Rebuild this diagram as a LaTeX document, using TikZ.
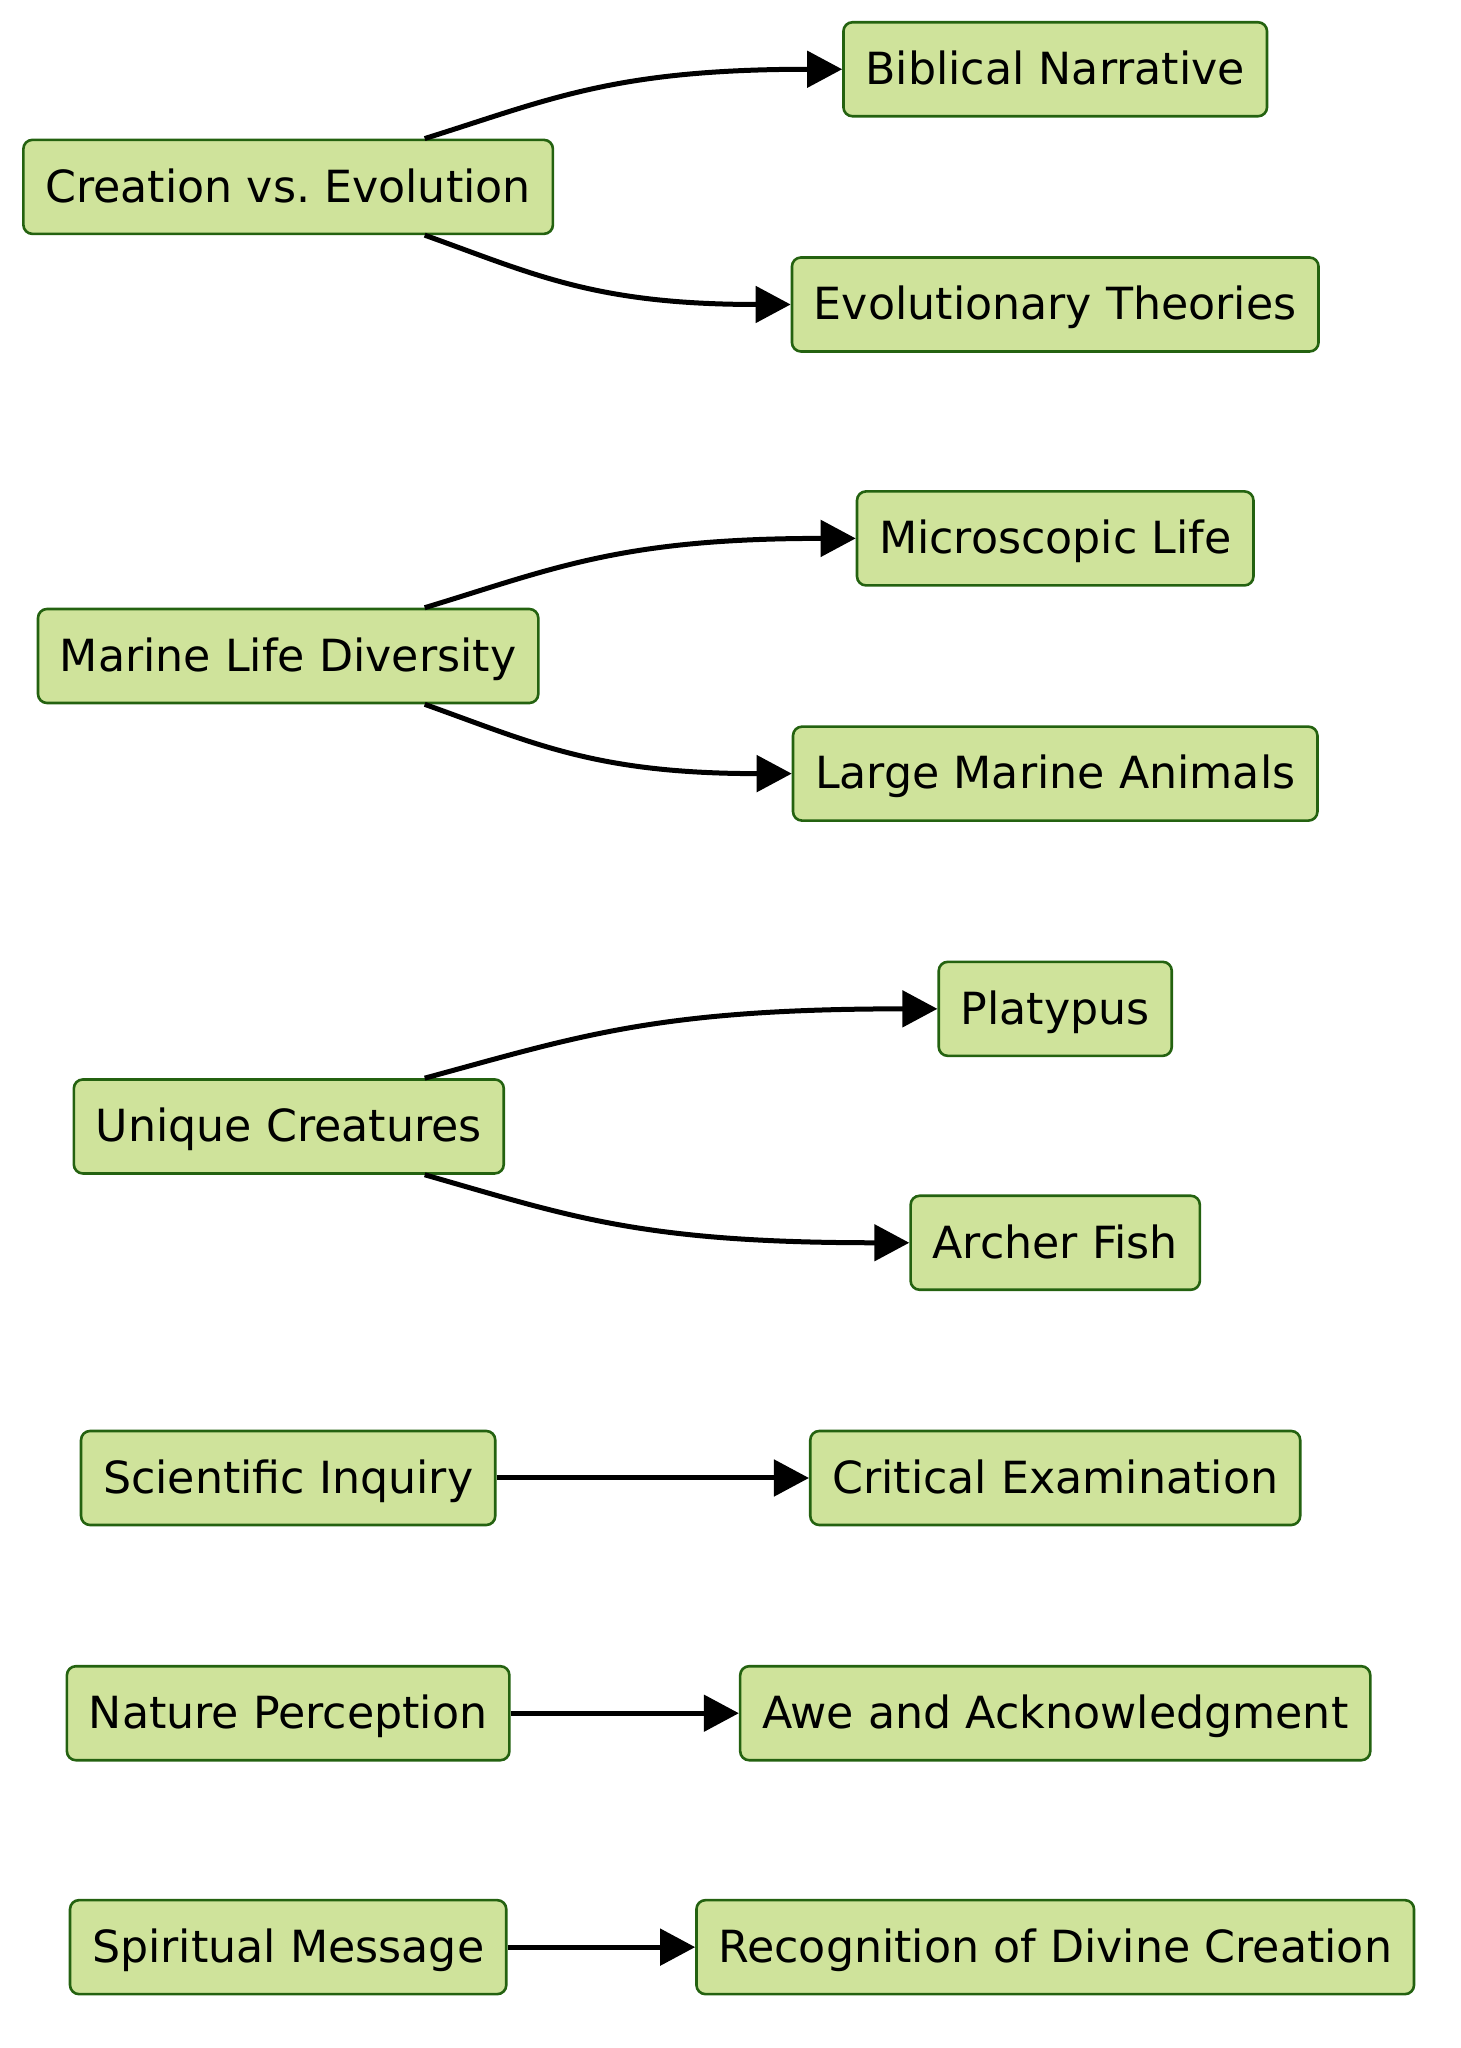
\documentclass[tikz,border=0pt]{standalone}
\usepackage{fontspec}
\setmainfont{DejaVu Sans}
\usetikzlibrary{arrows.meta,calc}
\definecolor{boxfill}{RGB}{207,227,155}
\definecolor{boxline}{RGB}{36,98,16}
\frenchspacing
\begin{document}
\begin{tikzpicture}[x=1.3068pt,y=-1.3068pt,
  box/.style={draw=boxline,fill=boxfill,line width=2.6pt,rounded corners=9pt,
    minimum height=94pt,inner xsep=22pt,inner ysep=0pt,
    text height=41.1pt,text depth=10.5pt,
    font=\fontsize{44.3pt}{54pt}\selectfont,text=black},
  edge/.style={line width=5pt,-{Triangle[length=35pt,width=36pt]},black}]
\useasboundingbox (0,0) rectangle (1118,1567.2);
% left column
\node[box] (cve) at (220.5,143) {Creation vs.\ Evolution};
\node[box] (mld) at (220.5,502) {Marine Life Diversity};
\node[box] (uc)  at (221,862)  {Unique Creatures};
\node[box] (si)  at (220.5,1131) {Scientific Inquiry};
\node[box] (np)  at (220.5,1311) {Nature Perception};
\node[box] (sm)  at (220.5,1490) {Spiritual Message};
% right column
\node[box] (bib) at (807.5,53)  {Biblical Narrative};
\node[box] (evo) at (807.5,233) {Evolutionary Theories};
\node[box] (mic) at (807.5,412) {Microscopic Life};
\node[box] (lma) at (807.5,592) {Large Marine Animals};
\node[box] (pla) at (807.5,772) {Platypus};
\node[box] (arc) at (807.5,951) {Archer Fish};
\node[box] (ce)  at (807.5,1131) {Critical Examination};
\node[box] (awe) at (807.5,1311) {Awe and Acknowledgment};
\node[box] (rdc) at (807.5,1490) {Recognition of Divine Creation};
% curved edges
\draw[edge] ($(cve.north)+(104.5,0)$) .. controls +(96,-30) and +(-175,0) .. (bib.west);
\draw[edge] ($(cve.south)+(104.5,0)$) .. controls +(84,30) and +(-150,0) .. (evo.west);
\draw[edge] ($(mld.north)+(104.5,0)$) .. controls +(99,-30) and +(-180,0) .. (mic.west);
\draw[edge] ($(mld.south)+(104.5,0)$) .. controls +(84,30) and +(-150,0) .. (lma.west);
\draw[edge] ($(uc.north)+(104,0)$) .. controls +(118,-32) and +(-215,0) .. (pla.west);
\draw[edge] ($(uc.south)+(104,0)$) .. controls +(112,32) and +(-205,0) .. (arc.west);
% straight edges
\draw[edge] (si.east) -- (ce.west);
\draw[edge] (np.east) -- (awe.west);
\draw[edge] (sm.east) -- (rdc.west);
\end{tikzpicture}
\end{document}
